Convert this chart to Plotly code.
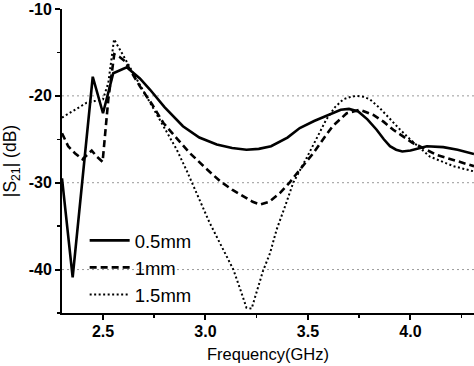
import plotly.graph_objects as go

# ---- data ----
x_05 = [2.30, 2.352, 2.45, 2.50, 2.55, 2.616, 2.68, 2.73, 2.80, 2.89, 2.97, 3.055, 3.13, 3.20,
        3.26, 3.32, 3.40, 3.46, 3.53, 3.61, 3.66, 3.70, 3.745, 3.79, 3.835, 3.87, 3.90, 3.93,
        3.96, 4.00, 4.08, 4.16, 4.23, 4.31]
y_05 = [-29.5, -40.9, -17.8, -22.0, -17.4, -16.7, -18.0, -19.3, -21.3, -23.5, -24.8, -25.6,
        -26.0, -26.2, -26.1, -25.8, -24.8, -23.7, -22.9, -22.1, -21.6, -21.5, -21.8, -22.7,
        -23.9, -25.0, -25.8, -26.2, -26.4, -26.3, -25.8, -25.9, -26.2, -26.7]

x_1 = [2.30, 2.33, 2.363, 2.40, 2.445, 2.47, 2.498, 2.526, 2.555, 2.58, 2.607, 2.68, 2.74,
       2.794, 2.86, 2.924, 3.00, 3.07, 3.13, 3.184, 3.23, 3.266, 3.31, 3.363, 3.41, 3.46,
       3.526, 3.58, 3.62, 3.689, 3.754, 3.819, 3.87, 3.916, 4.01, 4.128, 4.225, 4.31]
y_1 = [-24.3, -25.8, -26.6, -27.3, -26.3, -27.0, -27.6, -20.4, -15.2, -15.5, -16.0, -18.9,
       -21.0, -23.1, -24.9, -26.6, -28.3, -29.8, -30.8, -31.6, -32.2, -32.5, -32.2, -31.2,
       -30.0, -28.5, -26.6, -24.8, -23.5, -22.0, -21.6, -22.2, -23.0, -23.9, -25.4, -26.8,
       -27.5, -28.1]

x_15 = [2.30, 2.36, 2.42, 2.46, 2.50, 2.526, 2.554, 2.583, 2.648, 2.70, 2.762, 2.81, 2.86,
        2.91, 2.958, 3.02, 3.08, 3.136, 3.17, 3.20, 3.225, 3.25, 3.28, 3.315, 3.347, 3.39,
        3.428, 3.49, 3.54, 3.59, 3.632, 3.672, 3.71, 3.738, 3.77, 3.802, 3.85, 3.90, 3.95,
        3.998, 4.095, 4.21, 4.31]
y_15 = [-22.5, -21.7, -20.8, -20.6, -20.4, -18.5, -13.5, -14.7, -17.4, -19.5, -22.0, -24.0,
        -26.2, -28.7, -31.2, -34.6, -37.4, -40.0, -42.3, -44.4, -44.5, -42.5, -40.2, -38.1,
        -35.4, -32.6, -30.0, -27.3, -25.0, -22.7, -21.3, -20.4, -20.1, -20.0, -20.1, -20.4,
        -21.4, -22.7, -23.9, -25.0, -27.0, -28.1, -28.7]

series_names = ["0.5mm", "1mm", "1.5mm"]
x_ticks = [2.5, 3.0, 3.5, 4.0]
x_tick_labels = ["2.5", "3.0", "3.5", "4.0"]
y_ticks = [-40, -30, -20, -10]
y_tick_labels = ["-40", "-30", "-20", "-10"]
grid_values = [-40, -30, -20]
x_range = [2.3, 4.31]
y_range = [-45, -10]

FONT = "Arial, Liberation Sans, sans-serif"

fig = go.Figure()
fig.add_trace(go.Scatter(x=x_05, y=y_05, mode="lines", name=series_names[0],
                         line=dict(color="black", width=2.6)))
fig.add_trace(go.Scatter(x=x_1, y=y_1, mode="lines", name=series_names[1],
                         line=dict(color="black", width=2.6, dash="7px,4px")))
fig.add_trace(go.Scatter(x=x_15, y=y_15, mode="lines", name=series_names[2],
                         line=dict(color="black", width=2, dash="2px,2.5px")))

for g in grid_values:
    fig.add_shape(type="line", xref="paper", x0=0, x1=1, yref="y", y0=g, y1=g,
                  line=dict(color="#999999", width=1, dash="2px,3px"), layer="below")

fig.update_layout(
    width=474, height=366,
    margin=dict(l=62, r=0, t=9, b=53),
    paper_bgcolor="white", plot_bgcolor="white",
    font=dict(family=FONT, color="black"),
    showlegend=True,
    legend=dict(x=0.055, y=0.30, xanchor="left", yanchor="top",
                bgcolor="rgba(0,0,0,0)", font=dict(size=18.5, family=FONT),
                tracegroupgap=0, itemwidth=40),
    xaxis=dict(range=x_range, tickvals=x_ticks, ticktext=x_tick_labels, automargin=False,
               showgrid=False, zeroline=False, showline=True, linecolor="black",
               linewidth=2, ticks="outside", ticklen=5, tickwidth=2, tickcolor="black",
               ticklabelstandoff=-2,
               tickfont=dict(size=16, family=FONT, weight="bold"),
               minor=dict(tickvals=[2.75, 3.25, 3.75, 4.25], ticks="outside", ticklen=3,
                          tickwidth=1.5, tickcolor="black"),
               title=dict(text="Frequency(GHz)", font=dict(size=16.5, family=FONT), standoff=9)),
    yaxis=dict(range=y_range, tickvals=y_ticks, ticktext=y_tick_labels, automargin=False,
               showgrid=False, zeroline=False, showline=True, linecolor="black",
               linewidth=2, ticks="outside", ticklen=5, tickwidth=2, tickcolor="black",
               tickfont=dict(size=16, family=FONT, weight="bold"),
               minor=dict(tickvals=[-45, -35, -25, -15], ticks="outside", ticklen=3,
                          tickwidth=1.5, tickcolor="black"),
               title=dict(text="|S<sub>21</sub>| (dB)", font=dict(size=17.5, family=FONT),
                          standoff=9)),
)

fig.write_html("out.html",
               config={"displayModeBar": False, "staticPlot": True},
               post_script="document.body.style.margin='0';document.body.style.overflow='hidden';")
